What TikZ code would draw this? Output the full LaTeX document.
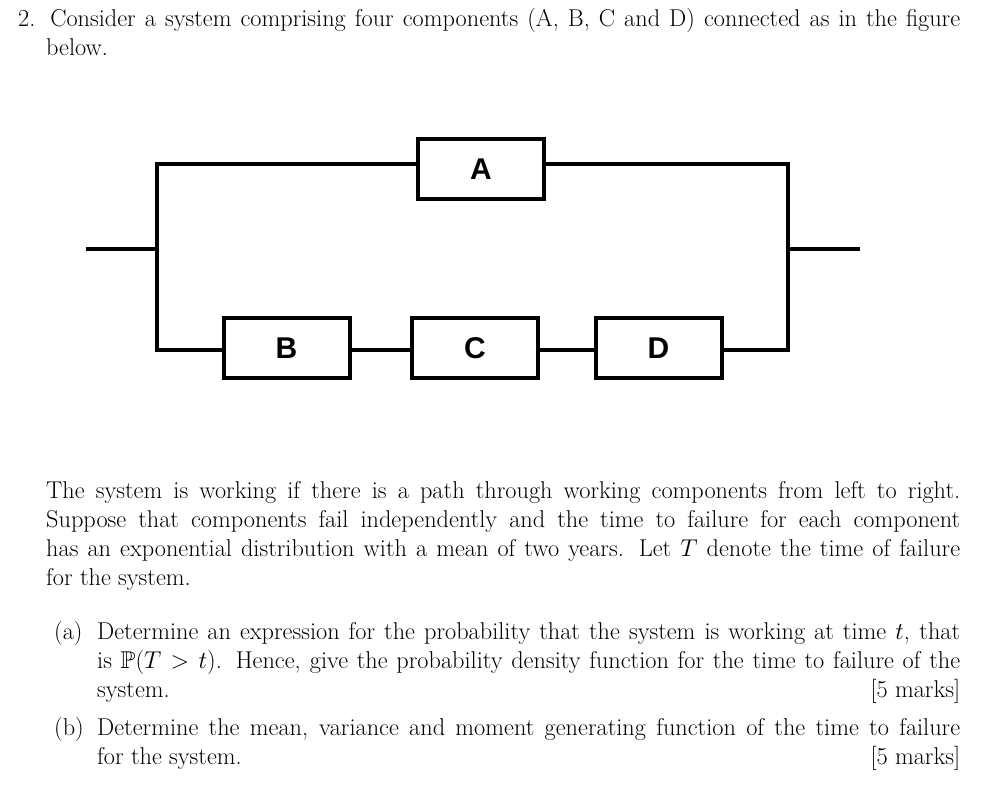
\RequirePackage{fix-cm}
\documentclass[tikz,border=0pt]{standalone}
\usepackage{amssymb}
\usepackage{fontspec}
\newfontfamily\boxfont{Liberation Sans}
\newcommand{\jl}[2]{\makebox[#1pt][s]{#2}}
\begin{document}
\begin{tikzpicture}[x=1pt,y=-1pt,
  comp/.style={draw,line width=4pt,minimum width=126pt,minimum height=60pt,inner sep=0pt,font=\boxfont\bfseries\fontsize{30}{30}\selectfont},
  wire/.style={line width=4pt},
  txt/.style={anchor=base west,inner sep=0pt,font=\fontsize{24.3}{29}\selectfont}]
\useasboundingbox (0,0) rectangle (985,794);
\node[txt] (l1) at (18,27) {\jl{942}{2. Consider a system comprising four components (A, B, C and D) connected as in the figure}};
\node[txt] (l2) at (46,56) {below.};
\node[comp] (A) at (481,169) {A};
\node[comp] (B) at (286.5,348) {B};
\node[comp] (C) at (475,348) {C};
\node[comp] (D) at (658.5,348) {D};
\coordinate (lt) at (157,164); \coordinate (lb) at (157,350);
\coordinate (rt) at (788,164); \coordinate (rb) at (788,350);
\coordinate (li) at (86,249); \coordinate (lm) at (157,249);
\coordinate (ro) at (860,249); \coordinate (rm) at (788,249);
\draw[wire] (A.west|-lt) -- (lt) -- (lb) -- (B.west|-lb);
\draw[wire] (A.east|-rt) -- (rt) -- (rb) -- (D.east|-rb);
\draw[wire] (B.east|-lb) -- (C.west|-lb);
\draw[wire] (C.east|-lb) -- (D.west|-lb);
\draw[wire] (li) -- (lm);
\draw[wire] (ro) -- (rm);
\node[txt] (p1) at (46,498) {\jl{914}{The system is working if there is a path through working components from left to right.}};
\node[txt] (p2) at (46,527) {\jl{914}{Suppose that components fail independently and the time to failure for each component}};
\node[txt] (p3) at (46,556) {\jl{914}{has an exponential distribution with a mean of two years. Let $T$ denote the time of failure}};
\node[txt] (p4) at (46,585) {for the system.};
\node[txt] (a0) at (54,639) {(a)};
\node[txt] (a1) at (97,639) {\jl{863}{Determine an expression for the probability that the system is working at time $t$, that}};
\node[txt] (a2) at (97,668) {\jl{863}{is $\mathbb{P}(T>t)$. Hence, give the probability density function for the time to failure of the}};
\node[txt] (a3) at (97,697) {\makebox[863pt][l]{system.\hfill[5 marks]}};
\node[txt] (b0) at (54,735) {(b)};
\node[txt] (b1) at (97,735) {\jl{863}{Determine the mean, variance and moment generating function of the time to failure}};
\node[txt] (b2) at (97,764) {\makebox[863pt][l]{for the system.\hfill[5 marks]}};
\end{tikzpicture}
\end{document}
